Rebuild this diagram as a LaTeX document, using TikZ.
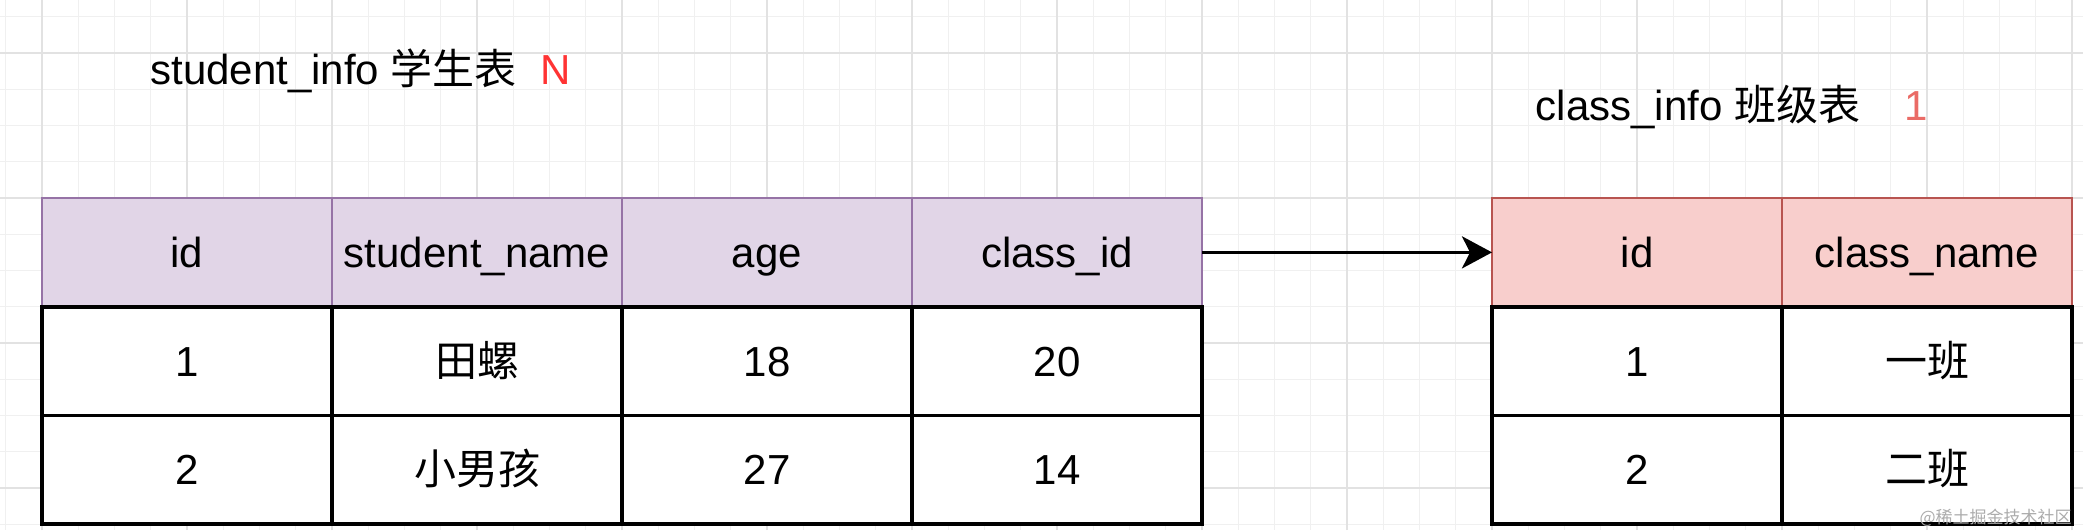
\documentclass[tikz,border=0pt]{standalone}
\usepackage{fontspec}
\setmainfont{Liberation Sans}
\newfontfamily\cjk{Noto Sans CJK SC}
\usetikzlibrary{arrows.meta,positioning}

\definecolor{gridminor}{HTML}{F0F0F0}
\definecolor{gridmajor}{HTML}{E2E2E2}
\definecolor{stufill}{HTML}{E1D5E7}
\definecolor{stuline}{HTML}{9673A6}
\definecolor{clsfill}{HTML}{F8CECC}
\definecolor{clsline}{HTML}{B85450}
\definecolor{markred}{HTML}{FF3333}
\definecolor{markpink}{HTML}{EA6B66}

\begin{document}
\begin{tikzpicture}[x=18.125pt,y=18.125pt,node distance=0pt,
                    >={Stealth[length=15pt,width=16pt,inset=4pt]},
                    font=\fontsize{21}{25}\selectfont]
  \tikzstyle{cell}=[draw=black,line width=1.8pt,fill=white,inner sep=0pt,outer sep=0pt,
                    minimum width=145pt,minimum height=54.375pt,text height=15pt,text depth=0pt]
  \tikzstyle{stuhdr}=[cell,draw=stuline,line width=0.8pt,fill=stufill]
  \tikzstyle{clshdr}=[cell,draw=clsline,line width=0.8pt,fill=clsfill]

  \useasboundingbox (-1.159,-9.159) rectangle (56.303,5.462);
  % grid paper
  \draw[gridminor,line width=0.6pt] (-1.159,-9.159) grid[step=1] (56.303,5.462);
  \draw[gridmajor,line width=0.8pt] (-1.159,-9.159) grid[step=4] (56.303,5.462);

  \node[anchor=base west,inner sep=0pt] (stitle) at (2.98,3.13)
    {student\_info {\cjk 学生表}\ \ \textcolor{markred}{N}};
  \node[anchor=base west,inner sep=0pt] (ctitle) at (41.2,2.15)
    {class\_info {\cjk 班级表}\hspace{22pt}\textcolor{markpink}{1}};

  % student_info
  \node[stuhdr] (sh1) at (4,-1.5)     {id};
  \node[stuhdr] (sh2) [right=of sh1]  {student\_name};
  \node[stuhdr] (sh3) [right=of sh2]  {age};
  \node[stuhdr] (sh4) [right=of sh3]  {class\_id};
  \node[cell]   (sa1) [below=of sh1]  {1};
  \node[cell]   (sa2) [below=of sh2]  {\cjk 田螺};
  \node[cell]   (sa3) [below=of sh3]  {18};
  \node[cell]   (sa4) [below=of sh4]  {20};
  \node[cell]   (sb1) [below=of sa1]  {2};
  \node[cell]   (sb2) [below=of sa2]  {\cjk 小男孩};
  \node[cell]   (sb3) [below=of sa3]  {27};
  \node[cell]   (sb4) [below=of sa4]  {14};

  % class_info
  \node[clshdr] (ch1) at (44,-1.5)    {id};
  \node[clshdr] (ch2) [right=of ch1]  {class\_name};
  \node[cell]   (ca1) [below=of ch1]  {1};
  \node[cell]   (ca2) [below=of ch2]  {\cjk 一班};
  \node[cell]   (cb1) [below=of ca1]  {2};
  \node[cell]   (cb2) [below=of ca2]  {\cjk 二班};

  \draw[->,line width=1.8pt] (sh4) -- (ch1);

  \node[anchor=base east,inner sep=0pt,text=gray!65,font=\cjk\fontsize{8.5}{10}\selectfont]
    (mark) at (56,-8.97) {@稀土掘金技术社区};
\end{tikzpicture}
\end{document}
